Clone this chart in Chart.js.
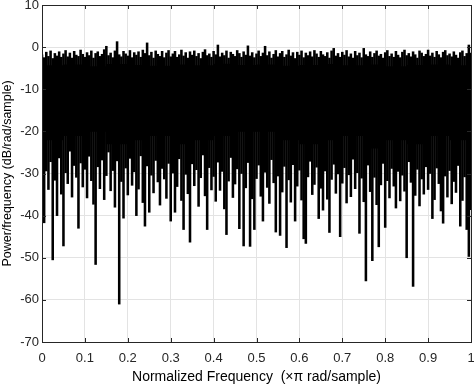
<!DOCTYPE html>
<html>
<head>
<meta charset="utf-8">
<script src="https://cdn.jsdelivr.net/npm/chart.js@4/dist/chart.umd.min.js"></script>
<style>
  html, body { margin: 0; padding: 0; background: #fff; }
  #wrap { width: 474px; height: 386px; }
</style>
</head>
<body>
<div id="wrap"><canvas id="psdChart" width="474" height="386"></canvas></div>
<script>
"use strict"

// frequency bins, 0 .. 1 in steps of 0.005 (x pi rad/sample)
const freq = Array.from({ length: 201 }, (_, i) => i / 200);

// upper tip of each bin (dB/rad/sample)
const binHigh = [
  -1.8,-2.5,-1.2,-2.2,-0.9,-2.7,-1.5,-2.1,-1.1,-2.4,-1.6,-0.8,-2.3,-1.4,-2.6,-1.0,-1.9,-2.2,-0.7,-1.7,
  -2.4,-1.3,-2.0,-0.9,-2.6,-1.5,-1.1,-2.2,-1.7,-0.6, 0.2,-2.0,-1.4,-2.5,-0.9, 1.3,-1.8,-2.3,-1.0,-1.6,
  -2.1,-0.8,-2.5,-1.3,-1.9,-1.1,-2.4,-0.7,-1.5, 1.0,-2.0,-1.2,-2.6,-0.9,-1.7,-2.2,-1.0,-2.5,-1.4,-0.8,
  -2.3,-1.6,-1.0,-2.4,-1.8,-0.7,-2.1,-1.3,-2.6,-1.1,-1.9,-0.9,-2.2,-1.5,-2.7,-1.2,-0.6,-2.0,-1.6,-2.4,
  -1.0,-1.8, 0.5,-2.3,-1.4,-2.0,-0.9,-2.6,-1.2,-1.7,-2.2,-0.8,-1.5,-2.4,-1.1,-1.9, 0.3,-2.1,-1.3,-2.5,
  -1.6,-0.9,-2.2,-1.4, 0.2,-2.0,-1.1,-2.6,-1.7,-0.8,-2.3,-1.5,-1.0,-2.4,-1.8,-0.7,-2.1,-1.3,-2.7,-1.2,
  -1.9,-0.9,-2.5,-1.4,-2.0,-1.1,-2.3,-0.8,-1.6,-2.4,-1.0,-1.8,-2.2,-1.3,-2.6,-0.9,-0.3,-2.1,-1.5,-2.4,
  -1.2,-1.9,-0.8,-2.3,-1.6,-2.6,-1.0,-2.0,-1.4,-2.5,-0.3,-1.8,-2.2,-1.1,-2.4,-1.5,-0.9,-2.1,-1.7,-2.6,
  -1.3,-0.8,-2.2,-1.6,-2.4,-1.0,-1.9,-2.5,-1.2,-0.7,-2.0,-1.5,-2.3,-1.1,-1.8,-2.6,-0.9,-1.4,-2.2,-1.7,
  -0.7,-2.1,-1.4,-2.4,-1.0,-1.8,-2.5,-1.2,-0.8,-2.0,-1.6,-2.3,-1.1,-1.9,-2.6,-1.3,-0.9,-2.2,-1.5, 0.5,
  -1.4
];

// lower tip of each bin (dB/rad/sample)
const binLow = [
  -36.5,-41.7,-29.4,-33.8,-27.2,-50.5,-31.6,-40.0,-26.3,-34.9,-47.2,-29.8,-32.4,-24.7,-35.6,-28.1,-30.9,-43.0,-27.5,-33.2,
  -29.0,-35.8,-25.9,-31.7,-37.3,-51.6,-28.4,-33.6,-26.8,-36.2,-30.5,-24.9,-34.1,-29.3,-38.0,-27.0,-61.0,-31.9,-40.6,-28.7,
  -35.1,-26.4,-32.8,-29.6,-40.0,-33.7,-25.8,-36.9,-42.5,-28.2,-39.2,-30.4,-34.6,-26.9,-32.0,-37.5,-28.8,-31.3,-35.9,-27.6,
  -41.3,-29.9,-39.2,-33.1,-26.5,-36.4,-43.3,-30.2,-34.8,-46.3,-27.7,-32.9,-29.1,-37.8,-31.0,-25.6,-35.3,-43.3,-28.6,-33.9,
  -30.7,-36.6,-27.3,-34.0,-29.5,-38.4,-44.5,-31.8,-26.2,-35.7,-32.5,-28.9,-43.1,-30.0,-47.2,-33.4,-27.4,-47.3,-36.0,-43.3,
  -31.2,-28.0,-35.4,-41.3,-29.7,-33.3,-37.1,-26.7,-32.2,-43.9,-30.6,-44.7,-34.4,-28.3,-47.6,-31.5,-36.8,-27.9,-41.3,-33.0,
  -29.2,-36.3,-45.5,-46.6,-30.8,-27.1,-35.0,-32.6,-28.5,-40.7,-33.5,-38.7,-29.4,-36.1,-44.0,-31.4,-27.8,-34.7,-30.1,-45.0,
  -32.3,-28.6,-37.0,-30.3,-35.5,-26.6,-33.6,-29.8,-44.2,-31.1,-36.7,-55.5,-28.0,-34.3,-50.7,-30.9,-37.4,-47.4,-32.7,-27.6,
  -42.8,-31.7,-35.8,-28.8,-33.0,-38.2,-29.5,-36.5,-30.4,-34.2,-50.0,-27.2,-32.1,-56.8,-35.2,-29.0,-37.7,-31.3,-34.9,-28.4,
  -33.8,-30.0,-40.7,-36.2,-28.7,-32.4,-38.9,-41.8,-30.6,-35.6,-29.3,-37.2,-31.9,-34.5,-28.1,-42.5,-36.4,-30.8,-43.3,-49.7,
  -38.6
];

// solid core of the band, one value per 0.05 wide segment
const coreFreq = [0.025,0.075,0.125,0.175,0.225,0.275,0.325,0.375,0.425,0.475,
                  0.525,0.575,0.625,0.675,0.725,0.775,0.825,0.875,0.925,0.975];
const coreLow  = [-22,-21,-20,-23,-22,-21,-23,-22,-21,-20,-20,-22,-23,-22,-21,-24,-22,-23,-21,-22];
const coreHigh = [-4.4,-4.2,-4.6,-4.1,-4.3,-4.5,-4.2,-4.4,-4.0,-4.3,-4.2,-4.5,-4.3,-4.1,-4.4,-4.2,-4.6,-4.3,-4.2,-4.4];

const xTickLabels = ['0','0.1','0.2','0.3','0.4','0.5','0.6','0.7','0.8','0.9','1'];
const yTickLabels = ['-70','-60','-50','-40','-30','-20','-10','0','10'];

const boxColor = '#262626';

// matlab style frame with inward ticks
const framePlugin = {
  id: 'frame',
  afterDatasetsDraw(chart) {
    const { ctx, chartArea: a, scales } = chart;
    ctx.save();
    ctx.strokeStyle = boxColor;
    ctx.lineWidth = 1;
    ctx.beginPath();
    scales.x.ticks.forEach(t => {
      const px = Math.round(scales.x.getPixelForValue(t.value)) + 0.5;
      ctx.moveTo(px, a.bottom); ctx.lineTo(px, a.bottom - 4);
      ctx.moveTo(px, a.top); ctx.lineTo(px, a.top + 4);
    });
    scales.y.ticks.forEach(t => {
      const py = Math.round(scales.y.getPixelForValue(t.value)) + 0.5;
      ctx.moveTo(a.left, py); ctx.lineTo(a.left + 4, py);
      ctx.moveTo(a.right, py); ctx.lineTo(a.right - 4, py);
    });
    ctx.stroke();
    ctx.strokeRect(Math.round(a.left) + 0.5, Math.round(a.top) + 0.5,
                   Math.round(a.right - a.left), Math.round(a.bottom - a.top));
    ctx.restore();
  }
};

function drawPsd() {
  const options = {
    type: 'bar',
    data: {
      labels: freq,
      datasets: [
        {
          label: 'core',
          data: coreFreq.map((f, i) => ({ x: f, y: [coreLow[i], coreHigh[i]] })),
          backgroundColor: '#000',
          barThickness: 22,
          grouped: false
        },
        {
          label: 'psd',
          data: freq.map((f, i) => [binLow[i], binHigh[i]]),
          backgroundColor: '#000',
          barThickness: 1.9,
          grouped: false
        }
      ]
    },
    options: {
      responsive: false,
      animation: false,
      layout: { padding: { top: 5, right: 3, left: 0, bottom: 0 } },
      plugins: { legend: { display: false }, tooltip: { enabled: false } },
      scales: {
        x: {
          type: 'linear',
          min: 0, max: 1,
          offset: false,
          grid: { color: '#e3e3e3', offset: false, drawTicks: false },
          border: { display: false },
          ticks: {
            stepSize: 0.1,
            padding: 9,
            color: boxColor,
            font: { family: 'Liberation Sans, Arial', size: 13 },
            maxRotation: 0,
            callback: (v, i) => xTickLabels[i]
          },
          title: {
            display: true,
            text: 'Normalized Frequency  (\u00d7\u03c0 rad/sample)',
            color: '#000',
            font: { family: 'Liberation Sans, Arial', size: 14, lineHeight: 1 },
            padding: { top: 0, bottom: 2 }
          },
          afterFit(scale) {
            scale.height = 44;
            scale.paddingLeft = 0;
            scale.paddingRight = 0;
          }
        },
        y: {
          min: -70, max: 10,
          grid: { color: '#e3e3e3', drawTicks: false },
          border: { display: false },
          ticks: {
            stepSize: 10,
            padding: 3,
            color: boxColor,
            font: { family: 'Liberation Sans, Arial', size: 13 },
            callback: (v, i) => yTickLabels[i]
          },
          title: {
            display: true,
            text: 'Power/frequency (dB/rad/sample)',
            color: '#000',
            font: { family: 'Liberation Sans, Arial', size: 12.5, lineHeight: 1 },
            padding: { top: 1, bottom: 0 }
          },
          afterFit(scale) {
            scale.width = 42;
            scale.paddingTop = 0;
            scale.paddingBottom = 0;
          }
        }
      }
    },
    plugins: [framePlugin]
  };
  const ctx = document.getElementById('psdChart');
  new Chart(ctx, options);
}

document.addEventListener("DOMContentLoaded", () => {
  drawPsd();
});
</script>
</body>
</html>
